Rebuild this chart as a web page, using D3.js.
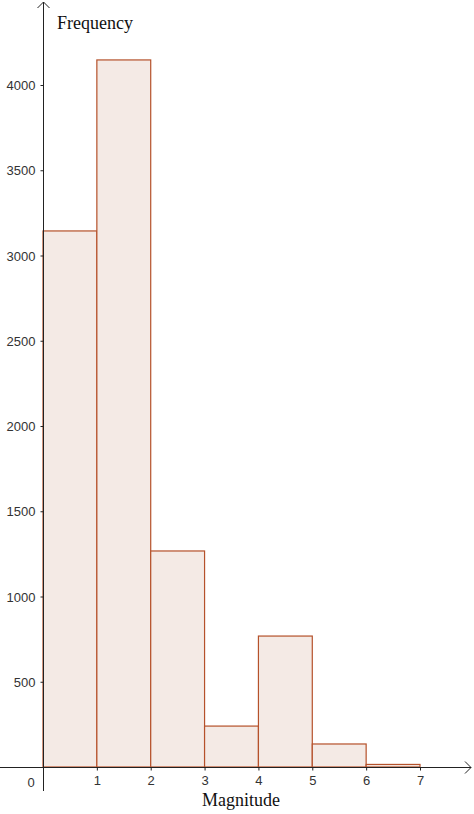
<!DOCTYPE html>
<html>
<head>
<meta charset="utf-8">
<script src="https://cdn.jsdelivr.net/npm/d3@7"></script>
<style>
  body { margin: 0; background: #fff; }
  .tick text { font-family: "Liberation Sans", Arial, sans-serif; font-size: 13px; fill: #333; }
  .lbl { font-family: "Liberation Serif", "Times New Roman", serif; font-size: 18px; fill: #111; }
</style>
</head>
<body>
<div id="chart"></div>
<script>
// histogram of magnitudes
var binStarts = [0, 1, 2, 3, 4, 5, 6];
var binWidth = 1;
var frequencies = [3144, 4147, 1267, 240, 768, 135, 15];
var yTicks = [500, 1000, 1500, 2000, 2500, 3000, 3500, 4000];
var xTicks = [1, 2, 3, 4, 5, 6, 7];

var width = 474,
    height = 814;

var x = d3.scaleLinear().domain([0, 7]).range([43, 420]);
var y = d3.scaleLinear().domain([0, 4000]).range([767, 85]);

var svg = d3.select("#chart").append("svg")
    .attr("width", width)
    .attr("height", height);

// bars
svg.selectAll("rect.bar")
  .data(binStarts)
  .enter().append("rect")
  .attr("class", "bar")
  .attr("x", function(d) { return x(d); })
  .attr("y", function(d, i) { return y(frequencies[i]); })
  .attr("width", function(d) { return x(d + binWidth) - x(d); })
  .attr("height", function(d, i) { return y(0) - y(frequencies[i]); })
  .attr("fill", "#f4eae5")
  .attr("stroke", "#b5512a")
  .attr("stroke-width", 1.2);

// axes lines
var ax = svg.append("g").attr("stroke", "#222").attr("stroke-width", 1).attr("fill", "none");
ax.append("line").attr("x1", 0).attr("x2", 471).attr("y1", y(0) + 0.5).attr("y2", y(0) + 0.5);
ax.append("path").attr("d", "M465," + (y(0) - 5.5) + "L471," + (y(0) + 0.5) + "L465," + (y(0) + 6.5));
ax.append("line").attr("x1", x(0) + 0.5).attr("x2", x(0) + 0.5).attr("y1", 2).attr("y2", 791);
ax.append("path").attr("d", "M" + (x(0) - 5.5) + ",8L" + (x(0) + 0.5) + ",2L" + (x(0) + 6.5) + ",8");

// y axis
var yAxis = svg.append("g")
  .attr("transform", "translate(" + (x(0) + 0.5) + ",0)")
  .call(d3.axisLeft(y).tickValues(yTicks).tickSize(3).tickPadding(5).tickFormat(d3.format("d")));
yAxis.select(".domain").remove();
yAxis.selectAll(".tick line").attr("stroke", "#222");
yAxis.selectAll(".tick text").attr("dy", "0.35em");

// x axis
var xAxis = svg.append("g")
  .attr("transform", "translate(0," + (y(0) + 0.5) + ")")
  .call(d3.axisBottom(x).tickValues(xTicks).tickSize(3).tickPadding(5).tickFormat(d3.format("d")));
xAxis.select(".domain").remove();
xAxis.selectAll(".tick line").attr("stroke", "#222");

svg.append("text")
  .attr("x", 31).attr("y", 787)
  .attr("text-anchor", "middle")
  .style("font-family", "Liberation Sans, Arial, sans-serif")
  .style("font-size", "13px")
  .style("fill", "#333")
  .text("0");

svg.append("text").attr("class", "lbl")
  .attr("x", 57).attr("y", 29)
  .text("Frequency");

svg.append("text").attr("class", "lbl")
  .attr("x", 241).attr("y", 806)
  .attr("text-anchor", "middle")
  .text("Magnitude");
</script>
</body>
</html>
